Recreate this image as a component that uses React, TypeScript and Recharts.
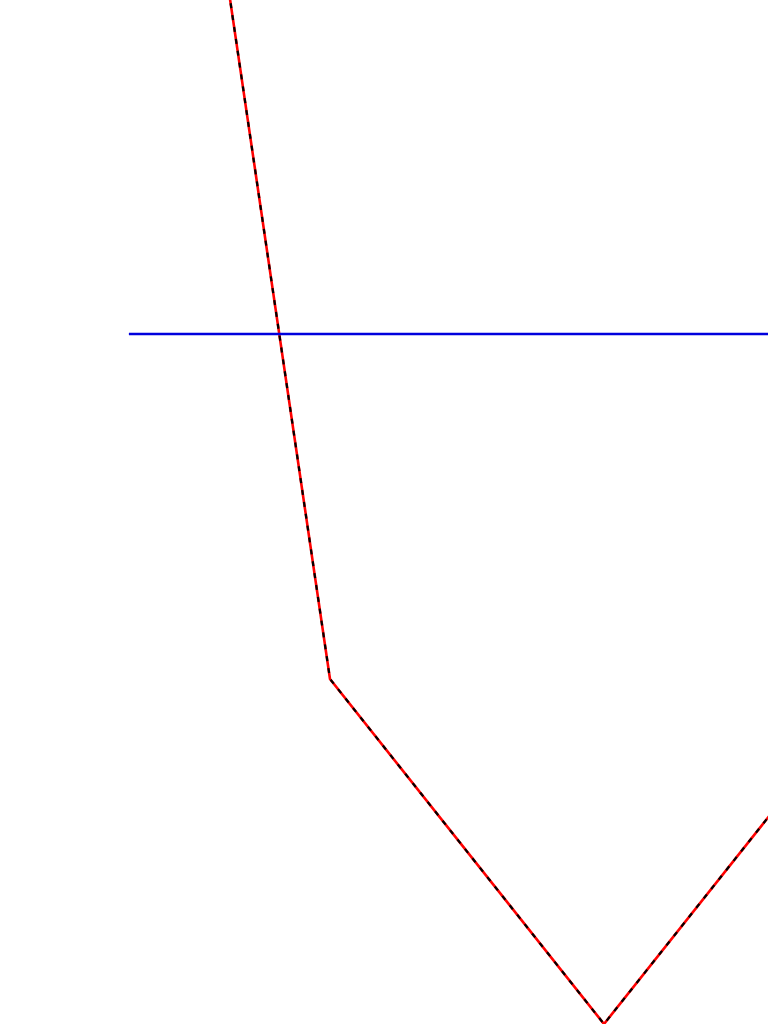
import React from "react";
import { LineChart, Line, XAxis, YAxis } from "recharts";

// red series (drawn twice: solid red + black dashes on top)
const steps = [0, 1, 2, 3];
const values = [440, -100, -200, -100];

// blue flat line
const levelX = [0.266, 3];
const levelY = [0, 0];

const seriesData = steps.map((x, i) => ({ x, v: values[i] }));
const levelData = levelX.map((x, i) => ({ x, v: levelY[i] }));

const App = () => {
  return (
    <div
      style={{
        position: "fixed",
        top: 0,
        left: 0,
        width: 768,
        height: 1024,
        overflow: "hidden",
        background: "#fff",
      }}
    >
      <div style={{ position: "absolute", left: 46, top: -1194.5 }}>
        <LineChart
          width={842}
          height={2228}
          margin={{ top: 10, right: 10, bottom: 10, left: 10 }}
        >
          <XAxis type="number" dataKey="x" domain={[0, 3]} hide />
          <YAxis type="number" dataKey="v" domain={[-200, 440]} hide />
          <Line
            data={seriesData}
            dataKey="v"
            stroke="#ff0000"
            strokeWidth={2.6}
            dot={false}
            isAnimationActive={false}
          />
          <Line
            data={seriesData}
            dataKey="v"
            stroke="#000000"
            strokeWidth={2.2}
            strokeDasharray="5 7"
            dot={false}
            isAnimationActive={false}
          />
          <Line
            data={levelData}
            dataKey="v"
            stroke="#0000dd"
            strokeWidth={2.6}
            dot={false}
            isAnimationActive={false}
          />
        </LineChart>
      </div>
    </div>
  );
};

export default App;
